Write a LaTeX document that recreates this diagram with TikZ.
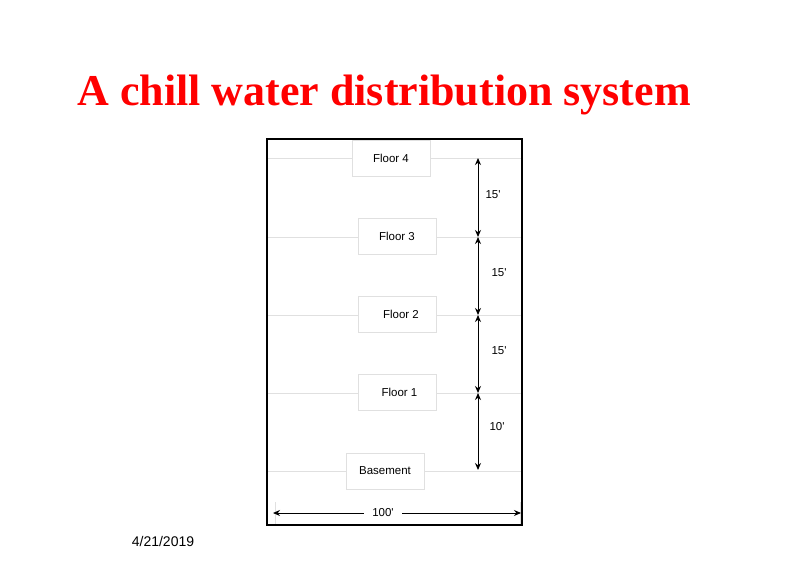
\documentclass[tikz,border=0pt]{standalone}
\usepackage{fontspec}
\setmainfont{Liberation Serif}
\newfontfamily\labelfont{Liberation Sans}
\usetikzlibrary{arrows.meta}
\tikzset{
  floorbox/.style={draw=black!12,fill=white,line width=0.6pt,minimum width=78pt,minimum height=36pt,inner sep=0pt,font=\labelfont\fontsize{11.5}{13}\selectfont},
  floorline/.style={draw=black!12,line width=0.6pt},
  dimline/.style={line width=1pt,{Stealth[length=7pt,width=6pt]}-{Stealth[length=7pt,width=6pt]}},
  dimlabel/.style={font=\labelfont\fontsize{11.5}{13}\selectfont,inner sep=1pt}
}
\begin{document}
\begin{tikzpicture}[x=1pt,y=-1pt]
  \useasboundingbox (0,0) rectangle (789,572);

  % title and date
  \node[anchor=base,text=red,font=\fontsize{44}{50}\selectfont\bfseries] (title) at (384,106) {A chill water distribution system};
  \node[font=\labelfont\fontsize{14}{16}\selectfont] (date) at (163,541) {4/21/2019};

  % building section
  \draw[line width=1.4pt] (267,139) rectangle (522,525);
  \draw[floorline] (268,158) -- (521,158);
  \draw[floorline] (268,237) -- (521,237);
  \draw[floorline] (268,315) -- (521,315);
  \draw[floorline] (268,393) -- (521,393);
  \draw[floorline] (268,471) -- (521,471);
  \draw[floorline] (275,502) -- (275,524);
  \draw[floorline] (520,502) -- (520,524);

  \node[floorbox] (f4) at (391,158) {Floor 4};
  \node[floorbox] (f3) at (397,236) {Floor 3};
  \node[floorbox] (f2) at (397,314) {\hspace*{8pt}Floor 2};
  \node[floorbox] (f1) at (397,392) {\hspace*{5pt}Floor 1};
  \node[floorbox] (bs) at (385,471) {Basement};

  % heights
  \coordinate (h4) at (478,158);
  \coordinate (h3) at (478,237);
  \coordinate (h2) at (478,315);
  \coordinate (h1) at (478,393);
  \coordinate (h0) at (478,470);
  \path[dimline] (h4) edge (h3);
  \path[dimline] (h3) edge (h2);
  \path[dimline] (h2) edge (h1);
  \path[dimline] (h1) edge (h0);
  \node[dimlabel] (d4) at (493,195) {15'};
  \node[dimlabel] (d3) at (499,273) {15'};
  \node[dimlabel] (d2) at (499,351) {15'};
  \node[dimlabel] (d1) at (497,427) {10'};

  % width
  \coordinate (wl) at (273,513);
  \coordinate (wr) at (521,513);
  \path[dimline] (wl) edge (wr);
  \node[dimlabel,fill=white,inner xsep=8pt] (dw) at (383,513) {100'};
\end{tikzpicture}
\end{document}
